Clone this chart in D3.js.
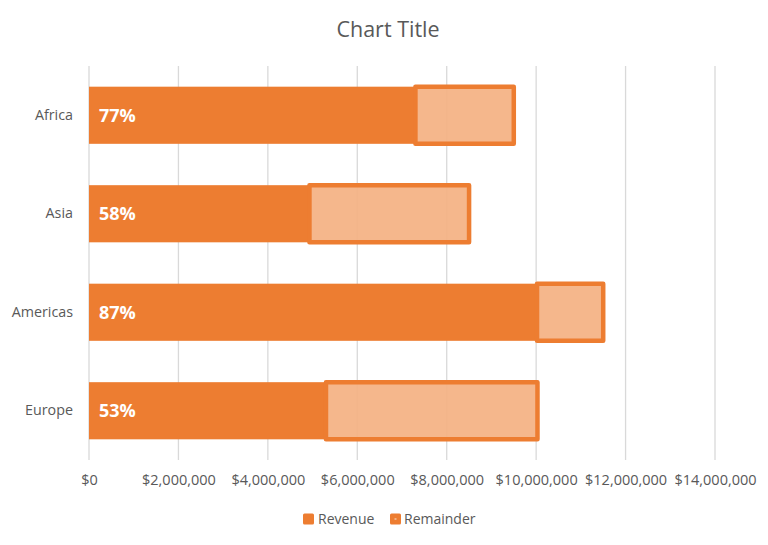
<!DOCTYPE html>
<html>
<head>
<meta charset="utf-8">
<script src="https://cdn.jsdelivr.net/npm/d3@7"></script>
<style>
  body { margin: 0; background: #fff; }
  svg { display: block; font-family: "Open Sans", "Liberation Sans", sans-serif; }
</style>
</head>
<body>
<div id="container"></div>
<script>
// ==================== data ==================== //

const regions = ["Africa", "Asia", "Americas", "Europe"];
const revenue = [7300000, 4930000, 10020000, 5300000];
const remainder = [2200000, 3570000, 1480000, 4730000];
const xTicks = [0, 2000000, 4000000, 6000000, 8000000, 10000000, 12000000, 14000000];

// ==================== chart ==================== //

const width = 768, height = 545;
const margin = { top: 66, right: 53, bottom: 85, left: 89 };
const orange = "#ED7D31";
const lightFill = "rgba(244, 177, 131, 0.93)";
const textColor = "#595959";

const svg = d3.select("#container")
    .append("svg")
    .attr("width", width)
    .attr("height", height);

const x = d3.scaleLinear()
    .domain([0, 14000000])
    .range([margin.left, width - margin.right]);

const y = d3.scaleBand()
    .domain(regions)
    .range([margin.top, height - margin.bottom])
    .paddingInner(0.42)
    .paddingOuter(0.21);

// title
svg.append("text")
    .attr("x", width / 2 + 4)
    .attr("y", 37)
    .attr("text-anchor", "middle")
    .attr("fill", textColor)
    .style("font-size", "21.5px")
    .text("Chart Title");

// gridlines
svg.append("g")
    .selectAll("line")
    .data(xTicks)
    .join("line")
    .attr("x1", d => x(d))
    .attr("x2", d => x(d))
    .attr("y1", margin.top)
    .attr("y2", height - margin.bottom)
    .attr("stroke", "#d9d9d9")
    .attr("stroke-width", 1.3);

// x axis labels
const xAxis = d3.axisBottom(x)
    .tickValues(xTicks)
    .tickSize(0)
    .tickPadding(0)
    .tickFormat(d => "$" + d3.format(",")(d));

svg.append("g")
    .attr("transform", `translate(0, ${height - margin.bottom + 15})`)
    .call(xAxis)
    .call(g => g.select(".domain").remove())
    .call(g => g.selectAll("text")
        .attr("fill", textColor)
        .style("font-size", "14.5px")
        .style("font-family", "'Open Sans', sans-serif"));

// y axis labels
const yAxis = d3.axisLeft(y).tickSize(0).tickPadding(16);
svg.append("g")
    .attr("transform", `translate(${margin.left}, 0)`)
    .call(yAxis)
    .call(g => g.select(".domain").remove())
    .call(g => g.selectAll("text")
        .attr("fill", textColor)
        .style("font-size", "14.3px")
        .style("font-family", "'Open Sans', sans-serif"));

// revenue bars
svg.append("g")
    .selectAll("rect")
    .data(regions)
    .join("rect")
    .attr("x", x(0))
    .attr("y", d => y(d))
    .attr("width", (d, i) => x(revenue[i]) - x(0))
    .attr("height", y.bandwidth())
    .attr("fill", orange);

// remainder bars
svg.append("g")
    .selectAll("rect")
    .data(regions)
    .join("rect")
    .attr("x", (d, i) => x(revenue[i]))
    .attr("y", d => y(d))
    .attr("width", (d, i) => x(revenue[i] + remainder[i]) - x(revenue[i]))
    .attr("height", y.bandwidth())
    .attr("fill", lightFill)
    .attr("stroke", orange)
    .attr("stroke-width", 4.5)
    .attr("stroke-linejoin", "round");

// percent labels
svg.append("g")
    .selectAll("text")
    .data(regions)
    .join("text")
    .attr("x", x(0) + 10)
    .attr("y", d => y(d) + y.bandwidth() / 2)
    .attr("dy", "0.36em")
    .attr("fill", "#fff")
    .style("font-size", "18px")
    .style("font-weight", "bold")
    .text((d, i) => Math.round(revenue[i] / (revenue[i] + remainder[i]) * 100) + "%");

// legend
const legend = svg.append("g").attr("transform", "translate(303, 519)");
legend.append("rect")
    .attr("x", 0).attr("y", -5.5).attr("width", 11).attr("height", 11)
    .attr("rx", 1.5)
    .attr("fill", orange);
legend.append("text")
    .attr("x", 15).attr("y", 0).attr("dy", "0.35em")
    .attr("fill", textColor)
    .style("font-size", "14px")
    .text("Revenue");

legend.append("rect")
    .attr("x", 87).attr("y", -5.5).attr("width", 11).attr("height", 11)
    .attr("rx", 1.5)
    .attr("fill", orange);
legend.append("rect")
    .attr("x", 91.5).attr("y", -1).attr("width", 2).attr("height", 2)
    .attr("fill", "#F4B183");
legend.append("text")
    .attr("x", 101).attr("y", 0).attr("dy", "0.35em")
    .attr("fill", textColor)
    .style("font-size", "14px")
    .text("Remainder");
</script>
</body>
</html>
